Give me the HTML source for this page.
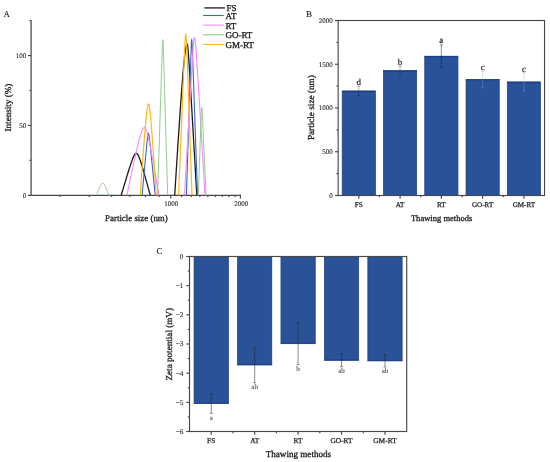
<!DOCTYPE html>
<html><head><meta charset="utf-8"><title>Figure</title>
<style>html,body{margin:0;padding:0;background:#fff;}svg{display:block;}</style>
</head><body>
<svg width="550" height="462" viewBox="0 0 550 462" font-family='"Liberation Serif", serif' text-rendering="geometricPrecision">
<line x1="31.10" y1="20.25" x2="31.10" y2="195.82" stroke="#484848" stroke-width="1.25" />
<line x1="28.00" y1="195.27" x2="240.90" y2="195.27" stroke="#484848" stroke-width="1.25" />
<line x1="28.00" y1="125.42" x2="31.10" y2="125.42" stroke="#484848" stroke-width="1.15" />
<line x1="28.00" y1="55.57" x2="31.10" y2="55.57" stroke="#484848" stroke-width="1.15" />
<line x1="29.40" y1="160.35" x2="31.10" y2="160.35" stroke="#484848" stroke-width="1.15" />
<line x1="29.40" y1="90.50" x2="31.10" y2="90.50" stroke="#484848" stroke-width="1.15" />
<line x1="29.40" y1="20.65" x2="31.10" y2="20.65" stroke="#484848" stroke-width="1.15" />
<text x="26.20" y="197.67" font-size="7" text-anchor="end" fill="#1c1c1c" stroke="#1c1c1c" stroke-width="0.1" >0</text>
<text x="26.20" y="127.82" font-size="7" text-anchor="end" fill="#1c1c1c" stroke="#1c1c1c" stroke-width="0.1" >50</text>
<text x="26.20" y="57.97" font-size="7" text-anchor="end" fill="#1c1c1c" stroke="#1c1c1c" stroke-width="0.1" >100</text>
<line x1="59.90" y1="195.27" x2="59.90" y2="196.97" stroke="#484848" stroke-width="1.15" />
<line x1="89.30" y1="195.27" x2="89.30" y2="196.97" stroke="#484848" stroke-width="1.15" />
<line x1="111.60" y1="195.27" x2="111.60" y2="196.97" stroke="#484848" stroke-width="1.15" />
<line x1="129.90" y1="195.27" x2="129.90" y2="196.97" stroke="#484848" stroke-width="1.15" />
<line x1="145.40" y1="195.27" x2="145.40" y2="196.97" stroke="#484848" stroke-width="1.15" />
<line x1="159.20" y1="195.27" x2="159.20" y2="196.97" stroke="#484848" stroke-width="1.15" />
<line x1="181.60" y1="195.27" x2="181.60" y2="196.97" stroke="#484848" stroke-width="1.15" />
<line x1="191.30" y1="195.27" x2="191.30" y2="196.97" stroke="#484848" stroke-width="1.15" />
<line x1="199.80" y1="195.27" x2="199.80" y2="196.97" stroke="#484848" stroke-width="1.15" />
<line x1="207.80" y1="195.27" x2="207.80" y2="196.97" stroke="#484848" stroke-width="1.15" />
<line x1="215.30" y1="195.27" x2="215.30" y2="196.97" stroke="#484848" stroke-width="1.15" />
<line x1="222.40" y1="195.27" x2="222.40" y2="196.97" stroke="#484848" stroke-width="1.15" />
<line x1="228.90" y1="195.27" x2="228.90" y2="196.97" stroke="#484848" stroke-width="1.15" />
<line x1="235.10" y1="195.27" x2="235.10" y2="196.97" stroke="#484848" stroke-width="1.15" />
<line x1="170.70" y1="194.82" x2="170.70" y2="198.47" stroke="#484848" stroke-width="1.15" />
<line x1="240.40" y1="194.82" x2="240.40" y2="198.47" stroke="#484848" stroke-width="1.15" />
<text x="171.20" y="206.30" font-size="7" text-anchor="middle" fill="#1c1c1c" stroke="#1c1c1c" stroke-width="0.1" >1000</text>
<text x="241.20" y="206.30" font-size="7" text-anchor="middle" fill="#1c1c1c" stroke="#1c1c1c" stroke-width="0.1" >2000</text>
<text x="105.10" y="220.50" font-size="8.9" text-anchor="start" fill="#1c1c1c" stroke="#1c1c1c" stroke-width="0.3" >Particle size (nm)</text>
<text x="11.30" y="131.50" font-size="9.15" text-anchor="start" fill="#1c1c1c" stroke="#1c1c1c" stroke-width="0.3" transform="rotate(-90 11.30 131.50)" >Intensity (%)</text>
<text x="3.50" y="16.60" font-size="8.9" text-anchor="start" fill="#1c1c1c" stroke="#1c1c1c" stroke-width="0.1" >A</text>
<polyline points="121.20,195.27 121.95,192.72 122.71,190.17 123.47,187.63 124.22,185.11 124.98,182.59 125.73,180.09 126.48,177.60 127.24,175.13 128.00,172.69 128.75,170.27 129.50,167.90 130.26,165.58 131.02,163.32 131.77,161.16 132.53,159.11 133.28,157.25 134.03,155.62 134.79,154.33 135.55,153.49 136.30,153.20 137.00,153.49 137.70,154.33 138.40,155.62 139.10,157.25 139.80,159.11 140.50,161.16 141.20,163.32 141.90,165.58 142.60,167.90 143.30,170.27 144.00,172.69 144.70,175.13 145.40,177.60 146.10,180.09 146.80,182.59 147.50,185.11 148.20,187.63 148.90,190.17 149.60,192.72 150.30,195.27" fill="none" stroke="#1a1a1a" stroke-width="1.3" stroke-linejoin="round"/>
<polyline points="174.70,195.27 175.32,185.36 175.95,175.51 176.57,165.72 177.20,156.01 177.82,146.39 178.45,136.87 179.07,127.47 179.70,118.22 180.32,109.15 180.95,100.30 181.57,91.71 182.20,83.45 182.82,75.60 183.45,68.26 184.07,61.57 184.70,55.69 185.32,50.80 185.95,47.10 186.57,44.79 187.20,44.00 187.68,45.97 188.16,50.92 188.64,57.42 189.12,64.66 189.60,72.29 190.08,80.14 190.56,88.13 191.04,96.20 191.52,104.34 192.00,112.52 192.48,120.73 192.96,128.96 193.44,137.21 193.92,145.48 194.40,153.76 194.88,162.05 195.36,170.34 195.84,178.65 196.32,186.96 196.80,195.27" fill="none" stroke="#1a1a1a" stroke-width="1.3" stroke-linejoin="round"/>
<polyline points="142.10,195.27 142.41,191.81 142.73,188.35 143.04,184.90 143.36,181.45 143.68,178.00 143.99,174.56 144.31,171.13 144.62,167.70 144.94,164.29 145.25,160.89 145.56,157.51 145.88,154.15 146.19,150.83 146.51,147.56 146.82,144.37 147.14,141.30 147.46,138.43 147.77,135.92 148.09,134.10 148.40,133.40 148.74,134.10 149.08,135.92 149.42,138.43 149.76,141.30 150.10,144.37 150.44,147.56 150.78,150.83 151.12,154.15 151.46,157.51 151.80,160.89 152.14,164.29 152.48,167.70 152.82,171.13 153.16,174.56 153.50,178.00 153.84,181.45 154.18,184.90 154.52,188.35 154.86,191.81 155.20,195.27" fill="none" stroke="#3567d2" stroke-width="1.1" stroke-linejoin="round"/>
<polyline points="186.40,195.27 186.66,186.93 186.93,178.59 187.19,170.25 187.46,161.92 187.72,153.59 187.99,145.26 188.25,136.95 188.52,128.63 188.78,120.33 189.05,112.04 189.31,103.77 189.58,95.52 189.84,87.29 190.11,79.12 190.38,71.02 190.64,63.03 190.91,55.28 191.17,48.01 191.44,41.98 191.70,39.30 191.99,41.98 192.28,48.01 192.57,55.28 192.86,63.03 193.15,71.02 193.44,79.12 193.73,87.29 194.02,95.52 194.31,103.77 194.60,112.04 194.89,120.33 195.18,128.63 195.47,136.95 195.76,145.26 196.05,153.59 196.34,161.92 196.63,170.25 196.92,178.59 197.21,186.93 197.50,195.27" fill="none" stroke="#3567d2" stroke-width="1.1" stroke-linejoin="round"/>
<polyline points="126.90,195.27 127.78,191.07 128.66,186.88 129.54,182.70 130.42,178.55 131.30,174.42 132.18,170.32 133.06,166.25 133.94,162.22 134.82,158.24 135.70,154.32 136.58,150.48 137.46,146.74 138.34,143.13 139.22,139.70 140.10,136.49 140.98,133.59 141.86,131.11 142.74,129.17 143.62,127.93 144.50,127.50 145.22,127.93 145.95,129.17 146.68,131.11 147.40,133.59 148.12,136.49 148.85,139.70 149.57,143.13 150.30,146.74 151.03,150.48 151.75,154.32 152.47,158.24 153.20,162.22 153.93,166.25 154.65,170.32 155.38,174.42 156.10,178.55 156.82,182.70 157.55,186.88 158.28,191.07 159.00,195.27" fill="none" stroke="#ff86f7" stroke-width="1.1" stroke-linejoin="round"/>
<polyline points="184.50,195.27 185.00,186.51 185.50,177.75 186.00,168.99 186.50,160.25 187.00,151.52 187.50,142.80 188.00,134.09 188.50,125.41 189.00,116.74 189.50,108.11 190.00,99.52 190.50,90.98 191.00,82.52 191.50,74.16 192.00,65.98 192.50,58.06 193.00,50.61 193.50,44.02 194.00,39.11 194.50,37.20 195.03,39.11 195.55,44.02 196.07,50.61 196.60,58.06 197.12,65.98 197.65,74.16 198.18,82.52 198.70,90.98 199.22,99.52 199.75,108.11 200.28,116.74 200.80,125.41 201.32,134.09 201.85,142.80 202.38,151.52 202.90,160.25 203.43,168.99 203.95,177.75 204.47,186.51 205.00,195.27" fill="none" stroke="#ff86f7" stroke-width="1.1" stroke-linejoin="round"/>
<polyline points="96.40,195.27 96.72,194.48 97.04,193.70 97.36,192.92 97.68,192.14 98.00,191.37 98.32,190.61 98.64,189.86 98.96,189.12 99.28,188.38 99.60,187.67 99.92,186.97 100.24,186.30 100.56,185.65 100.88,185.05 101.20,184.49 101.52,184.00 101.84,183.58 102.16,183.27 102.48,183.07 102.80,183.00 103.11,183.07 103.41,183.27 103.72,183.58 104.02,184.00 104.33,184.49 104.63,185.05 104.94,185.65 105.24,186.30 105.55,186.97 105.85,187.67 106.16,188.38 106.46,189.12 106.77,189.86 107.07,190.61 107.38,191.37 107.68,192.14 107.98,192.92 108.29,193.70 108.59,194.48 108.90,195.27" fill="none" stroke="#90cc90" stroke-width="1.0" stroke-linejoin="round"/>
<polyline points="157.60,195.27 157.86,187.03 158.12,178.78 158.38,170.54 158.64,162.31 158.90,154.07 159.16,145.84 159.42,137.62 159.68,129.39 159.94,121.18 160.20,112.97 160.46,104.78 160.72,96.60 160.98,88.45 161.24,80.33 161.50,72.26 161.76,64.28 162.02,56.48 162.28,49.05 162.54,42.69 162.80,39.70 163.05,42.69 163.29,49.05 163.53,56.48 163.78,64.28 164.03,72.26 164.27,80.33 164.52,88.45 164.76,96.60 165.00,104.78 165.25,112.97 165.50,121.18 165.74,129.39 165.98,137.62 166.23,145.84 166.47,154.07 166.72,162.31 166.97,170.54 167.21,178.78 167.45,187.03 167.70,195.27" fill="none" stroke="#90cc90" stroke-width="1.0" stroke-linejoin="round"/>
<polyline points="198.30,195.27 198.47,190.53 198.64,185.80 198.81,181.06 198.98,176.33 199.15,171.60 199.32,166.88 199.49,162.16 199.66,157.44 199.83,152.73 200.00,148.03 200.17,143.35 200.34,138.68 200.51,134.03 200.68,129.41 200.85,124.85 201.02,120.37 201.19,116.06 201.36,112.07 201.53,108.86 201.70,107.50 201.92,108.86 202.14,112.07 202.36,116.06 202.58,120.37 202.80,124.85 203.02,129.41 203.24,134.03 203.46,138.68 203.68,143.35 203.90,148.03 204.12,152.73 204.34,157.44 204.56,162.16 204.78,166.88 205.00,171.60 205.22,176.33 205.44,181.06 205.66,185.80 205.88,190.53 206.10,195.27" fill="none" stroke="#90cc90" stroke-width="1.0" stroke-linejoin="round"/>
<polyline points="140.20,195.27 140.61,189.41 141.03,183.57 141.44,177.77 141.86,172.01 142.27,166.29 142.69,160.62 143.10,155.02 143.52,149.49 143.94,144.05 144.35,138.73 144.76,133.54 145.18,128.53 145.59,123.75 146.01,119.24 146.43,115.10 146.84,111.43 147.25,108.34 147.67,105.99 148.09,104.51 148.50,104.00 148.88,104.51 149.27,105.99 149.66,108.34 150.04,111.43 150.43,115.10 150.81,119.24 151.19,123.75 151.58,128.53 151.97,133.54 152.35,138.73 152.73,144.05 153.12,149.49 153.50,155.02 153.89,160.62 154.27,166.29 154.66,172.01 155.04,177.77 155.43,183.57 155.81,189.41 156.20,195.27" fill="none" stroke="#ffb914" stroke-width="1.2" stroke-linejoin="round"/>
<polyline points="178.60,195.27 178.96,186.40 179.32,177.54 179.68,168.68 180.04,159.83 180.40,150.99 180.76,142.15 181.12,133.34 181.48,124.53 181.84,115.75 182.20,106.99 182.56,98.27 182.92,89.59 183.28,80.98 183.64,72.46 184.00,64.08 184.36,55.94 184.72,48.21 185.08,41.29 185.44,36.00 185.80,33.90 186.11,36.00 186.42,41.29 186.73,48.21 187.04,55.94 187.35,64.08 187.66,72.46 187.97,80.98 188.28,89.59 188.59,98.27 188.90,106.99 189.21,115.75 189.52,124.53 189.83,133.34 190.14,142.15 190.45,150.99 190.76,159.83 191.07,168.68 191.38,177.54 191.69,186.40 192.00,195.27" fill="none" stroke="#ffb914" stroke-width="1.2" stroke-linejoin="round"/>
<line x1="204.40" y1="7.90" x2="224.90" y2="7.90" stroke="#333" stroke-width="1.45" />
<text x="226.50" y="10.90" font-size="9.0" text-anchor="start" fill="#1c1c1c" stroke="#1c1c1c" stroke-width="0.3" >FS</text>
<line x1="203.10" y1="15.50" x2="223.70" y2="15.50" stroke="#3567d2" stroke-width="1.1" />
<text x="225.40" y="18.90" font-size="9.0" text-anchor="start" fill="#1c1c1c" stroke="#1c1c1c" stroke-width="0.3" >AT</text>
<line x1="203.10" y1="25.13" x2="223.70" y2="25.13" stroke="#ff86f7" stroke-width="1.1" />
<text x="225.40" y="28.53" font-size="9.0" text-anchor="start" fill="#1c1c1c" stroke="#1c1c1c" stroke-width="0.3" >RT</text>
<line x1="203.10" y1="34.76" x2="223.70" y2="34.76" stroke="#90cc90" stroke-width="1.1" />
<text x="225.40" y="38.16" font-size="9.0" text-anchor="start" fill="#1c1c1c" stroke="#1c1c1c" stroke-width="0.3" >GO-RT</text>
<line x1="203.10" y1="44.39" x2="223.70" y2="44.39" stroke="#ffb914" stroke-width="1.1" />
<text x="225.40" y="47.79" font-size="9.0" text-anchor="start" fill="#1c1c1c" stroke="#1c1c1c" stroke-width="0.3" >GM-RT</text>
<rect x="342.19" y="90.94" width="33.20" height="104.56" fill="#2a5298" stroke="#1a3a7e" stroke-width="0.7"/>
<line x1="342.19" y1="91.39" x2="375.39" y2="91.39" stroke="#1a3a7e" stroke-width="0.9"/>
<rect x="383.47" y="70.64" width="33.20" height="124.86" fill="#2a5298" stroke="#1a3a7e" stroke-width="0.7"/>
<line x1="383.47" y1="71.09" x2="416.67" y2="71.09" stroke="#1a3a7e" stroke-width="0.9"/>
<rect x="424.75" y="56.20" width="33.20" height="139.30" fill="#2a5298" stroke="#1a3a7e" stroke-width="0.7"/>
<line x1="424.75" y1="56.65" x2="457.95" y2="56.65" stroke="#1a3a7e" stroke-width="0.9"/>
<rect x="466.03" y="79.47" width="33.20" height="116.03" fill="#2a5298" stroke="#1a3a7e" stroke-width="0.7"/>
<line x1="466.03" y1="79.92" x2="499.23" y2="79.92" stroke="#1a3a7e" stroke-width="0.9"/>
<rect x="507.31" y="81.92" width="33.20" height="113.58" fill="#2a5298" stroke="#1a3a7e" stroke-width="0.7"/>
<line x1="507.31" y1="82.38" x2="540.51" y2="82.38" stroke="#1a3a7e" stroke-width="0.9"/>
<rect x="338.15" y="20.50" width="206.40" height="175.00" fill="none" stroke="#484848" stroke-width="1.15"/>
<line x1="358.79" y1="86.39" x2="358.79" y2="95.49" stroke="#222" stroke-width="0.7" stroke-opacity="0.45"/>
<line x1="357.29" y1="86.39" x2="360.29" y2="86.39" stroke="#222" stroke-width="0.7" stroke-opacity="0.45"/>
<line x1="357.29" y1="95.49" x2="360.29" y2="95.49" stroke="#222" stroke-width="0.7" stroke-opacity="0.45"/>
<text x="358.79" y="85.00" font-size="9.0" text-anchor="middle" fill="#1c1c1c" stroke="#1c1c1c" stroke-width="0.2" >d</text>
<line x1="400.07" y1="66.35" x2="400.07" y2="74.92" stroke="#222" stroke-width="0.7" stroke-opacity="0.45"/>
<line x1="398.57" y1="66.35" x2="401.57" y2="66.35" stroke="#222" stroke-width="0.7" stroke-opacity="0.45"/>
<line x1="398.57" y1="74.92" x2="401.57" y2="74.92" stroke="#222" stroke-width="0.7" stroke-opacity="0.45"/>
<text x="400.07" y="64.80" font-size="9.0" text-anchor="middle" fill="#1c1c1c" stroke="#1c1c1c" stroke-width="0.2" >b</text>
<line x1="441.35" y1="44.91" x2="441.35" y2="67.49" stroke="#222" stroke-width="0.7" stroke-opacity="0.75"/>
<line x1="439.85" y1="44.91" x2="442.85" y2="44.91" stroke="#222" stroke-width="0.7" stroke-opacity="0.75"/>
<line x1="439.85" y1="67.49" x2="442.85" y2="67.49" stroke="#222" stroke-width="0.7" stroke-opacity="0.75"/>
<text x="441.35" y="43.40" font-size="9.0" text-anchor="middle" fill="#1c1c1c" stroke="#1c1c1c" stroke-width="0.2" >a</text>
<line x1="482.63" y1="71.16" x2="482.63" y2="87.79" stroke="#8fa6d0" stroke-width="0.9" stroke-opacity="0.4"/>
<line x1="481.13" y1="71.16" x2="484.13" y2="71.16" stroke="#8fa6d0" stroke-width="0.9" stroke-opacity="0.4"/>
<line x1="481.13" y1="87.79" x2="484.13" y2="87.79" stroke="#8fa6d0" stroke-width="0.9" stroke-opacity="0.4"/>
<text x="482.63" y="70.40" font-size="9.0" text-anchor="middle" fill="#1c1c1c" stroke="#1c1c1c" stroke-width="0.2" >c</text>
<line x1="523.91" y1="72.74" x2="523.91" y2="91.11" stroke="#8fa6d0" stroke-width="0.9" stroke-opacity="0.4"/>
<line x1="522.41" y1="72.74" x2="525.41" y2="72.74" stroke="#8fa6d0" stroke-width="0.9" stroke-opacity="0.4"/>
<line x1="522.41" y1="91.11" x2="525.41" y2="91.11" stroke="#8fa6d0" stroke-width="0.9" stroke-opacity="0.4"/>
<text x="523.91" y="72.00" font-size="9.0" text-anchor="middle" fill="#1c1c1c" stroke="#1c1c1c" stroke-width="0.2" >c</text>
<line x1="334.95" y1="195.50" x2="338.15" y2="195.50" stroke="#484848" stroke-width="1.15" />
<text x="332.80" y="197.88" font-size="7" text-anchor="end" fill="#1c1c1c" stroke="#1c1c1c" stroke-width="0.1" >0</text>
<line x1="334.95" y1="151.75" x2="338.15" y2="151.75" stroke="#484848" stroke-width="1.15" />
<text x="332.80" y="154.13" font-size="7" text-anchor="end" fill="#1c1c1c" stroke="#1c1c1c" stroke-width="0.1" >500</text>
<line x1="334.95" y1="108.00" x2="338.15" y2="108.00" stroke="#484848" stroke-width="1.15" />
<text x="332.80" y="110.38" font-size="7" text-anchor="end" fill="#1c1c1c" stroke="#1c1c1c" stroke-width="0.1" >1000</text>
<line x1="334.95" y1="64.25" x2="338.15" y2="64.25" stroke="#484848" stroke-width="1.15" />
<text x="332.80" y="66.63" font-size="7" text-anchor="end" fill="#1c1c1c" stroke="#1c1c1c" stroke-width="0.1" >1500</text>
<line x1="334.95" y1="20.50" x2="338.15" y2="20.50" stroke="#484848" stroke-width="1.15" />
<text x="332.80" y="22.88" font-size="7" text-anchor="end" fill="#1c1c1c" stroke="#1c1c1c" stroke-width="0.1" >2000</text>
<line x1="336.45" y1="173.62" x2="338.15" y2="173.62" stroke="#484848" stroke-width="1.15" />
<line x1="336.45" y1="129.88" x2="338.15" y2="129.88" stroke="#484848" stroke-width="1.15" />
<line x1="336.45" y1="86.12" x2="338.15" y2="86.12" stroke="#484848" stroke-width="1.15" />
<line x1="336.45" y1="42.38" x2="338.15" y2="42.38" stroke="#484848" stroke-width="1.15" />
<line x1="358.79" y1="195.50" x2="358.79" y2="198.70" stroke="#484848" stroke-width="1.15" />
<text x="358.79" y="206.80" font-size="7.1" text-anchor="middle" fill="#1c1c1c" stroke="#1c1c1c" stroke-width="0.25" >FS</text>
<line x1="400.07" y1="195.50" x2="400.07" y2="198.70" stroke="#484848" stroke-width="1.15" />
<text x="400.07" y="206.80" font-size="7.1" text-anchor="middle" fill="#1c1c1c" stroke="#1c1c1c" stroke-width="0.25" >AT</text>
<line x1="441.35" y1="195.50" x2="441.35" y2="198.70" stroke="#484848" stroke-width="1.15" />
<text x="441.35" y="206.80" font-size="7.1" text-anchor="middle" fill="#1c1c1c" stroke="#1c1c1c" stroke-width="0.25" >RT</text>
<line x1="482.63" y1="195.50" x2="482.63" y2="198.70" stroke="#484848" stroke-width="1.15" />
<text x="482.63" y="206.80" font-size="7.1" text-anchor="middle" fill="#1c1c1c" stroke="#1c1c1c" stroke-width="0.25" >GO-RT</text>
<line x1="523.91" y1="195.50" x2="523.91" y2="198.70" stroke="#484848" stroke-width="1.15" />
<text x="523.91" y="206.80" font-size="7.1" text-anchor="middle" fill="#1c1c1c" stroke="#1c1c1c" stroke-width="0.25" >GM-RT</text>
<line x1="379.43" y1="195.50" x2="379.43" y2="197.20" stroke="#484848" stroke-width="1.15" />
<line x1="420.71" y1="195.50" x2="420.71" y2="197.20" stroke="#484848" stroke-width="1.15" />
<line x1="461.99" y1="195.50" x2="461.99" y2="197.20" stroke="#484848" stroke-width="1.15" />
<line x1="503.27" y1="195.50" x2="503.27" y2="197.20" stroke="#484848" stroke-width="1.15" />
<text x="410.90" y="221.40" font-size="8.55" text-anchor="start" fill="#1c1c1c" stroke="#1c1c1c" stroke-width="0.3" >Thawing methods</text>
<text x="314.40" y="140.10" font-size="9.2" text-anchor="start" fill="#1c1c1c" stroke="#1c1c1c" stroke-width="0.3" transform="rotate(-90 314.40 140.10)" >Particle size (nm)</text>
<text x="306.00" y="16.80" font-size="9.0" text-anchor="start" fill="#1c1c1c" stroke="#1c1c1c" stroke-width="0.1" >B</text>
<rect x="194.07" y="256.50" width="34.30" height="147.15" fill="#2a5298" stroke="#1a3a7e" stroke-width="0.7"/>
<line x1="194.07" y1="403.20" x2="228.37" y2="403.20" stroke="#1a3a7e" stroke-width="0.6"/>
<rect x="237.51" y="256.50" width="34.30" height="108.50" fill="#2a5298" stroke="#1a3a7e" stroke-width="0.7"/>
<line x1="237.51" y1="364.55" x2="271.81" y2="364.55" stroke="#1a3a7e" stroke-width="0.6"/>
<rect x="280.95" y="256.50" width="34.30" height="87.21" fill="#2a5298" stroke="#1a3a7e" stroke-width="0.7"/>
<line x1="280.95" y1="343.26" x2="315.25" y2="343.26" stroke="#1a3a7e" stroke-width="0.6"/>
<rect x="324.39" y="256.50" width="34.30" height="103.83" fill="#2a5298" stroke="#1a3a7e" stroke-width="0.7"/>
<line x1="324.39" y1="359.88" x2="358.69" y2="359.88" stroke="#1a3a7e" stroke-width="0.6"/>
<rect x="367.83" y="256.50" width="34.30" height="104.42" fill="#2a5298" stroke="#1a3a7e" stroke-width="0.7"/>
<line x1="367.83" y1="360.47" x2="402.13" y2="360.47" stroke="#1a3a7e" stroke-width="0.6"/>
<rect x="189.50" y="256.50" width="217.20" height="175.00" fill="none" stroke="#484848" stroke-width="1.15"/>
<line x1="211.22" y1="394.02" x2="211.22" y2="413.27" stroke="#222" stroke-width="0.65" stroke-opacity="0.8"/>
<line x1="209.72" y1="394.02" x2="212.72" y2="394.02" stroke="#222" stroke-width="0.65" stroke-opacity="0.8"/>
<line x1="209.72" y1="413.27" x2="212.72" y2="413.27" stroke="#222" stroke-width="0.65" stroke-opacity="0.8"/>
<text x="211.22" y="420.00" font-size="7.0" text-anchor="middle" fill="#444" stroke="#444" stroke-width="0.05" >a</text>
<line x1="254.66" y1="347.21" x2="254.66" y2="382.79" stroke="#222" stroke-width="0.65" stroke-opacity="0.8"/>
<line x1="253.16" y1="347.21" x2="256.16" y2="347.21" stroke="#222" stroke-width="0.65" stroke-opacity="0.8"/>
<line x1="253.16" y1="382.79" x2="256.16" y2="382.79" stroke="#222" stroke-width="0.65" stroke-opacity="0.8"/>
<text x="254.66" y="388.70" font-size="7.0" text-anchor="middle" fill="#444" stroke="#444" stroke-width="0.05" >ab</text>
<line x1="298.10" y1="322.71" x2="298.10" y2="364.71" stroke="#222" stroke-width="0.65" stroke-opacity="0.8"/>
<line x1="296.60" y1="322.71" x2="299.60" y2="322.71" stroke="#222" stroke-width="0.65" stroke-opacity="0.8"/>
<line x1="296.60" y1="364.71" x2="299.60" y2="364.71" stroke="#222" stroke-width="0.65" stroke-opacity="0.8"/>
<text x="298.10" y="370.80" font-size="7.0" text-anchor="middle" fill="#444" stroke="#444" stroke-width="0.05" >b</text>
<line x1="341.54" y1="353.92" x2="341.54" y2="366.75" stroke="#222" stroke-width="0.65" stroke-opacity="0.8"/>
<line x1="340.04" y1="353.92" x2="343.04" y2="353.92" stroke="#222" stroke-width="0.65" stroke-opacity="0.8"/>
<line x1="340.04" y1="366.75" x2="343.04" y2="366.75" stroke="#222" stroke-width="0.65" stroke-opacity="0.8"/>
<text x="341.54" y="373.00" font-size="7.0" text-anchor="middle" fill="#444" stroke="#444" stroke-width="0.05" >ab</text>
<line x1="384.98" y1="354.79" x2="384.98" y2="367.04" stroke="#222" stroke-width="0.65" stroke-opacity="0.8"/>
<line x1="383.48" y1="354.79" x2="386.48" y2="354.79" stroke="#222" stroke-width="0.65" stroke-opacity="0.8"/>
<line x1="383.48" y1="367.04" x2="386.48" y2="367.04" stroke="#222" stroke-width="0.65" stroke-opacity="0.8"/>
<text x="384.98" y="373.30" font-size="7.0" text-anchor="middle" fill="#444" stroke="#444" stroke-width="0.05" >ab</text>
<line x1="186.30" y1="256.50" x2="189.50" y2="256.50" stroke="#484848" stroke-width="1.15" />
<text x="183.40" y="258.98" font-size="7.3" text-anchor="end" fill="#1c1c1c" stroke="#1c1c1c" stroke-width="0.1" >0</text>
<line x1="186.30" y1="285.67" x2="189.50" y2="285.67" stroke="#484848" stroke-width="1.15" />
<text x="183.40" y="288.15" font-size="7.3" text-anchor="end" fill="#1c1c1c" stroke="#1c1c1c" stroke-width="0.1" >−1</text>
<line x1="186.30" y1="314.83" x2="189.50" y2="314.83" stroke="#484848" stroke-width="1.15" />
<text x="183.40" y="317.32" font-size="7.3" text-anchor="end" fill="#1c1c1c" stroke="#1c1c1c" stroke-width="0.1" >−2</text>
<line x1="186.30" y1="344.00" x2="189.50" y2="344.00" stroke="#484848" stroke-width="1.15" />
<text x="183.40" y="346.48" font-size="7.3" text-anchor="end" fill="#1c1c1c" stroke="#1c1c1c" stroke-width="0.1" >−3</text>
<line x1="186.30" y1="373.17" x2="189.50" y2="373.17" stroke="#484848" stroke-width="1.15" />
<text x="183.40" y="375.65" font-size="7.3" text-anchor="end" fill="#1c1c1c" stroke="#1c1c1c" stroke-width="0.1" >−4</text>
<line x1="186.30" y1="402.33" x2="189.50" y2="402.33" stroke="#484848" stroke-width="1.15" />
<text x="183.40" y="404.82" font-size="7.3" text-anchor="end" fill="#1c1c1c" stroke="#1c1c1c" stroke-width="0.1" >−5</text>
<line x1="186.30" y1="431.50" x2="189.50" y2="431.50" stroke="#484848" stroke-width="1.15" />
<text x="183.40" y="433.98" font-size="7.3" text-anchor="end" fill="#1c1c1c" stroke="#1c1c1c" stroke-width="0.1" >−6</text>
<line x1="187.80" y1="271.08" x2="189.50" y2="271.08" stroke="#484848" stroke-width="1.15" />
<line x1="187.80" y1="300.25" x2="189.50" y2="300.25" stroke="#484848" stroke-width="1.15" />
<line x1="187.80" y1="329.42" x2="189.50" y2="329.42" stroke="#484848" stroke-width="1.15" />
<line x1="187.80" y1="358.58" x2="189.50" y2="358.58" stroke="#484848" stroke-width="1.15" />
<line x1="187.80" y1="387.75" x2="189.50" y2="387.75" stroke="#484848" stroke-width="1.15" />
<line x1="187.80" y1="416.92" x2="189.50" y2="416.92" stroke="#484848" stroke-width="1.15" />
<line x1="211.22" y1="431.50" x2="211.22" y2="434.70" stroke="#484848" stroke-width="1.15" />
<text x="211.22" y="443.40" font-size="7.3999999999999995" text-anchor="middle" fill="#1c1c1c" stroke="#1c1c1c" stroke-width="0.25" >FS</text>
<line x1="254.66" y1="431.50" x2="254.66" y2="434.70" stroke="#484848" stroke-width="1.15" />
<text x="254.66" y="443.40" font-size="7.3999999999999995" text-anchor="middle" fill="#1c1c1c" stroke="#1c1c1c" stroke-width="0.25" >AT</text>
<line x1="298.10" y1="431.50" x2="298.10" y2="434.70" stroke="#484848" stroke-width="1.15" />
<text x="298.10" y="443.40" font-size="7.3999999999999995" text-anchor="middle" fill="#1c1c1c" stroke="#1c1c1c" stroke-width="0.25" >RT</text>
<line x1="341.54" y1="431.50" x2="341.54" y2="434.70" stroke="#484848" stroke-width="1.15" />
<text x="341.54" y="443.40" font-size="7.3999999999999995" text-anchor="middle" fill="#1c1c1c" stroke="#1c1c1c" stroke-width="0.25" >GO-RT</text>
<line x1="384.98" y1="431.50" x2="384.98" y2="434.70" stroke="#484848" stroke-width="1.15" />
<text x="384.98" y="443.40" font-size="7.3999999999999995" text-anchor="middle" fill="#1c1c1c" stroke="#1c1c1c" stroke-width="0.25" >GM-RT</text>
<line x1="232.94" y1="431.50" x2="232.94" y2="433.20" stroke="#484848" stroke-width="1.15" />
<line x1="276.38" y1="431.50" x2="276.38" y2="433.20" stroke="#484848" stroke-width="1.15" />
<line x1="319.82" y1="431.50" x2="319.82" y2="433.20" stroke="#484848" stroke-width="1.15" />
<line x1="363.26" y1="431.50" x2="363.26" y2="433.20" stroke="#484848" stroke-width="1.15" />
<text x="265.70" y="457.00" font-size="9.1" text-anchor="start" fill="#1c1c1c" stroke="#1c1c1c" stroke-width="0.3" >Thawing methods</text>
<text x="172.10" y="380.50" font-size="9.15" text-anchor="start" fill="#1c1c1c" stroke="#1c1c1c" stroke-width="0.3" transform="rotate(-90 172.10 380.50)" >Zeta potential (mV)</text>
<text x="156.40" y="254.20" font-size="9.0" text-anchor="start" fill="#1c1c1c" stroke="#1c1c1c" stroke-width="0.1" >C</text>
</svg>
</body></html>
